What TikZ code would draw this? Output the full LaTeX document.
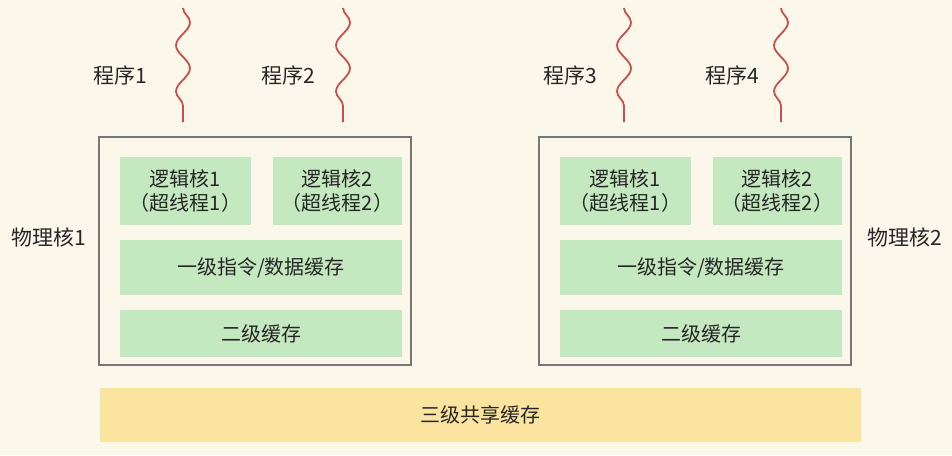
\documentclass[tikz,border=0pt]{standalone}
\usepackage{fontspec}
\setmainfont{Noto Sans CJK SC}
\usetikzlibrary{decorations.pathmorphing}
\definecolor{bg}{HTML}{FBF7EA}
\definecolor{gbox}{HTML}{C4E8BF}
\definecolor{ybox}{HTML}{FBE3A0}
\definecolor{wave}{HTML}{C8504A}
\definecolor{frame}{HTML}{777777}
\tikzset{
  gb/.style={fill=gbox,draw=none,inner sep=0pt,align=center,font=\fontsize{20}{24}\selectfont,text=black!85},
  core/.style={draw=frame,line width=2pt,fill=none},
  lbl/.style={font=\fontsize{21}{24}\selectfont,text=black!85},
  wv/.style={draw=wave,line width=1.8pt,decorate,decoration={snake,amplitude=7pt,segment length=46pt}}
}
\begin{document}
\begin{tikzpicture}[x=1pt,y=-1pt]
\fill[bg] (0,0) rectangle (952,455);
\useasboundingbox (0,0) rectangle (952,455);
\foreach \ox/\n in {0/1,440/2}{
  \draw[core] (99+\ox,137) rectangle (411+\ox,365);
  \node[gb,minimum width=131,minimum height=68] (lc1-\n) at (185.5+\ox,191) {逻辑核1\\（超线程1）};
  \node[gb,minimum width=129,minimum height=68] (lc2-\n) at (337.5+\ox,191) {逻辑核2\\（超线程2）};
  \node[gb,minimum width=282,minimum height=55] (l1-\n) at (261+\ox,267.5) {一级指令/数据缓存};
  \node[gb,minimum width=282,minimum height=47] (l2-\n) at (261+\ox,333.5) {二级缓存};
}
\node[gb,fill=ybox,minimum width=761,minimum height=54] (l3) at (480.5,415) {三级共享缓存};
\node[lbl] (pc1) at (49,237) {物理核1};
\node[lbl] (pc2) at (905,237) {物理核2};
\node[lbl] (p1) at (120,75) {程序1};
\node[lbl] (p2) at (288,75) {程序2};
\node[lbl] (p3) at (570,75) {程序3};
\node[lbl] (p4) at (732,75) {程序4};
\foreach \x in {183,343,624,781}{
  \draw[wv] (\x,8) -- (\x,122);
}
\end{tikzpicture}
\end{document}
